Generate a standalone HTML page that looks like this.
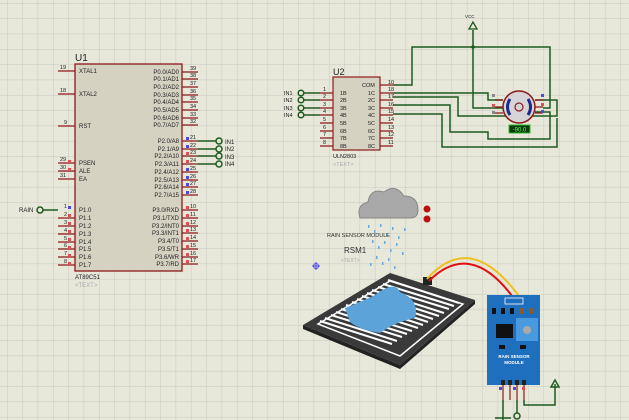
<!DOCTYPE html>
<html><head><meta charset="utf-8"><style>
html,body{margin:0;padding:0;background:#e7e7da;}
svg{display:block;font-family:"Liberation Sans",sans-serif;}
</style></head><body>
<svg width="629" height="420" viewBox="0 0 629 420" xmlns="http://www.w3.org/2000/svg">
<defs>
<pattern id="g" x="7" y="3" width="15.33" height="15.33" patternUnits="userSpaceOnUse">
<path d="M0 0H15.33M0 0V15.33" stroke="#c9c9bd" stroke-width="1" fill="none"/>
</pattern>
</defs>
<rect width="629" height="420" fill="#e7e7da"/>
<rect width="629" height="420" fill="url(#g)"/>

<!-- U1 -->
<text x="75" y="61" font-size="10" fill="#222">U1</text>
<rect x="75" y="64" width="107" height="207" fill="#d5d2c2" stroke="#8b1a1a" stroke-width="1.3"/>
<g stroke="#8b1a1a" stroke-width="1.2">
<path d="M58 71H75M58 94H75M58 126H75M58 163H75M58 171H75M58 179H75"/>
<path d="M58 218H75M58 226H75M58 234H75M58 242H75M58 249H75M58 257H75M58 265H75"/>
<path d="M182 72H198M182 79H198M182 87H198M182 95H198M182 102H198M182 110H198M182 118H198M182 125H198"/>
<path d="M182 141H198M182 149H198M182 156H198M182 164H198M182 172H198M182 180H198M182 187H198M182 195H198"/>
<path d="M182 210H198M182 218H198M182 226H198M182 233H198M182 241H198M182 249H198M182 257H198M182 264H198"/>
</g>
<g font-size="6" fill="#222">
<text x="79" y="73">XTAL1</text><text x="79" y="96">XTAL2</text><text x="79" y="128">RST</text>
<text x="79" y="165">PSEN</text><text x="79" y="173">ALE</text><text x="79" y="181">EA</text>
<text x="79" y="212">P1.0</text><text x="79" y="220">P1.1</text><text x="79" y="228">P1.2</text><text x="79" y="236">P1.3</text>
<text x="79" y="244">P1.4</text><text x="79" y="251">P1.5</text><text x="79" y="259">P1.6</text><text x="79" y="267">P1.7</text>
<g text-anchor="end">
<text x="179" y="74">P0.0/AD0</text><text x="179" y="81">P0.1/AD1</text><text x="179" y="89">P0.2/AD2</text><text x="179" y="97">P0.3/AD3</text>
<text x="179" y="104">P0.4/AD4</text><text x="179" y="112">P0.5/AD5</text><text x="179" y="120">P0.6/AD6</text><text x="179" y="127">P0.7/AD7</text>
<text x="179" y="143">P2.0/A8</text><text x="179" y="151">P2.1/A9</text><text x="179" y="158">P2.2/A10</text><text x="179" y="166">P2.3/A11</text>
<text x="179" y="174">P2.4/A12</text><text x="179" y="182">P2.5/A13</text><text x="179" y="189">P2.6/A14</text><text x="179" y="197">P2.7/A15</text>
<text x="179" y="212">P3.0/RXD</text><text x="179" y="220">P3.1/TXD</text><text x="179" y="228">P3.2/INT0</text><text x="179" y="235">P3.3/INT1</text>
<text x="179" y="243">P3.4/T0</text><text x="179" y="251">P3.5/T1</text><text x="179" y="259">P3.6/WR</text><text x="179" y="266">P3.7/RD</text>
</g>
<text x="75" y="279">AT89C51</text>
<text x="75" y="287" fill="#aaa">&lt;TEXT&gt;</text>
</g>
<g font-size="5.5" fill="#222">
<text x="60" y="69">19</text><text x="60" y="92">18</text><text x="64" y="124">9</text>
<text x="60" y="161">29</text><text x="60" y="169">30</text><text x="60" y="177">31</text>
<text x="64" y="208">1</text><text x="64" y="216">2</text><text x="64" y="224">3</text><text x="64" y="232">4</text><text x="64" y="240">5</text><text x="64" y="247">6</text><text x="64" y="255">7</text><text x="64" y="263">8</text>
<text x="190" y="70">39</text><text x="190" y="77">38</text><text x="190" y="85">37</text><text x="190" y="93">36</text><text x="190" y="100">35</text><text x="190" y="108">34</text><text x="190" y="116">33</text><text x="190" y="123">32</text>
<text x="190" y="139">21</text><text x="190" y="147">22</text><text x="190" y="154">23</text><text x="190" y="162">24</text><text x="190" y="170">25</text><text x="190" y="178">26</text><text x="190" y="185">27</text><text x="190" y="193">28</text>
<text x="190" y="208">10</text><text x="190" y="216">11</text><text x="190" y="224">12</text><text x="190" y="231">13</text><text x="190" y="239">14</text><text x="190" y="247">15</text><text x="190" y="255">16</text><text x="190" y="262">17</text>
</g>
<g fill="#e05050">
<rect x="68" y="160" width="3" height="3"/><rect x="68" y="168" width="3" height="3"/><rect x="68" y="214" width="3" height="3"/><rect x="68" y="222" width="3" height="3"/><rect x="68" y="230" width="3" height="3"/><rect x="68" y="238" width="3" height="3"/><rect x="68" y="246" width="3" height="3"/><rect x="68" y="254" width="3" height="3"/><rect x="68" y="262" width="3" height="3"/>
<rect x="186" y="152" width="3" height="3"/><rect x="186" y="160" width="3" height="3"/>
<rect x="186" y="206" width="3" height="3"/><rect x="186" y="214" width="3" height="3"/><rect x="186" y="222" width="3" height="3"/><rect x="186" y="229" width="3" height="3"/><rect x="186" y="237" width="3" height="3"/><rect x="186" y="245" width="3" height="3"/><rect x="186" y="253" width="3" height="3"/><rect x="186" y="260" width="3" height="3"/>
</g>
<g fill="#4a4ae0">
<rect x="68" y="206" width="3" height="3"/><rect x="186" y="137" width="3" height="3"/><rect x="186" y="145" width="3" height="3"/><rect x="186" y="168" width="3" height="3"/><rect x="186" y="176" width="3" height="3"/><rect x="186" y="183" width="3" height="3"/><rect x="186" y="191" width="3" height="3"/>
</g>
<!-- IN terminals -->
<g stroke="#1e5a1e" stroke-width="1.5" fill="none">
<path d="M198 141H216M198 149H216M198 156H216M198 164H216"/>
<circle cx="219" cy="141" r="3"/><circle cx="219" cy="149" r="3"/><circle cx="219" cy="156" r="3"/><circle cx="219" cy="164" r="3"/>
<path d="M43 210H58"/><circle cx="40" cy="210" r="3"/>
</g>
<g font-size="6" fill="#222"><text x="225" y="144">IN1</text><text x="225" y="151">IN2</text><text x="225" y="159">IN3</text><text x="225" y="166">IN4</text><text x="19" y="212">RAIN</text></g>

<!-- U2 -->
<text x="333" y="75" font-size="9" fill="#222">U2</text>
<rect x="333" y="77" width="47" height="73" fill="#d5d2c2" stroke="#8b1a1a" stroke-width="1.2"/>
<g stroke="#8b1a1a" stroke-width="1.2">
<path d="M320 93H333M320 100H333M320 108H333M320 115H333M320 123H333M320 131H333M320 138H333M320 146H333"/>
<path d="M380 85H393M380 93H393M380 100H393M380 108H393M380 115H393M380 123H393M380 131H393M380 138H393M380 146H393"/>
</g>
<g stroke="#1e5a1e" stroke-width="1.5" fill="none">
<path d="M304 93H320M304 100H320M304 108H320M304 115H320"/>
<circle cx="301" cy="93" r="2.8"/><circle cx="301" cy="100" r="2.8"/><circle cx="301" cy="108" r="2.8"/><circle cx="301" cy="115" r="2.8"/>
<path d="M393 85H412V47H550V108H543"/>
<path d="M473 30V108H503"/>
<path d="M393 93H488V100H503"/>
<path d="M393 97H458V116H557V100H535"/>
<path d="M393 105H450V132H488V139H550V112H535"/>
<path d="M393 114H442V147H557V118"/>
</g>
<circle cx="473" cy="47" r="1.8" fill="#1e5a1e"/>
<g font-size="5.5" fill="#222">
<text x="284" y="95">IN1</text><text x="284" y="102">IN2</text><text x="284" y="110">IN3</text><text x="284" y="117">IN4</text>
<text x="340" y="95">1B</text><text x="340" y="102">2B</text><text x="340" y="110">3B</text><text x="340" y="117">4B</text><text x="340" y="125">5B</text><text x="340" y="133">6B</text><text x="340" y="140">7B</text><text x="340" y="148">8B</text>
<text x="362" y="87">COM</text><text x="368" y="95">1C</text><text x="368" y="102">2C</text><text x="368" y="110">3C</text><text x="368" y="117">4C</text><text x="368" y="125">5C</text><text x="368" y="133">6C</text><text x="368" y="140">7C</text><text x="368" y="148">8C</text>
<text x="323" y="91">1</text><text x="323" y="98">2</text><text x="323" y="106">3</text><text x="323" y="113">4</text><text x="323" y="121">5</text><text x="323" y="129">6</text><text x="323" y="136">7</text><text x="323" y="144">8</text>
<text x="388" y="84">10</text><text x="388" y="91">18</text><text x="388" y="98">17</text><text x="388" y="106">16</text><text x="388" y="113">15</text><text x="388" y="121">14</text><text x="388" y="129">13</text><text x="388" y="136">12</text><text x="388" y="144">11</text>
<text x="333" y="158">ULN2803</text><text x="333" y="166" fill="#aaa">&lt;TEXT&gt;</text>
<text x="465" y="18" font-size="4.5">VCC</text>
</g>
<path d="M473 22L469 29H477Z" fill="none" stroke="#1e5a1e" stroke-width="1.3"/>
<!-- motor -->
<g stroke="#8b1a1a" stroke-width="1.2"><path d="M495 100H503M495 107H503M495 113H503M535 100H543M535 107H543M535 113H543"/></g>
<circle cx="519" cy="107" r="16" fill="#d6d4d6" stroke="#8b1a1a" stroke-width="1.5"/>
<circle cx="519" cy="107" r="4" fill="none" stroke="#8b1a1a" stroke-width="1.2"/>
<path d="M510 99Q505 107 510 115" stroke="#1a2a8a" stroke-width="3" fill="none"/>
<path d="M528 99Q533 107 528 115" stroke="#1a2a8a" stroke-width="3" fill="none"/>
<rect x="509" y="125" width="21" height="8" fill="#0a3a0a" stroke="#2fbf2f"/>
<text x="519.5" y="131.5" font-size="6" fill="#6f6" text-anchor="middle">-90.0</text>
<rect x="492" y="94" width="3" height="3" fill="#888"/><rect x="492" y="104" width="3" height="3" fill="#e05050"/><rect x="492" y="111" width="3" height="3" fill="#888"/>
<rect x="541" y="94" width="3" height="3" fill="#4a4ae0"/><rect x="541" y="103" width="3" height="3" fill="#e05050"/><rect x="541" y="110" width="3" height="3" fill="#4a4ae0"/>

<!-- rain cloud -->
<path d="M360 218Q356 205 368 202Q370 188 384 192Q395 183 404 196Q418 196 418 210Q418 218 410 218Z" fill="#a8a8a8" stroke="#888"/>
<circle cx="427" cy="209" r="3.5" fill="#b81010"/><circle cx="427" cy="219" r="3.5" fill="#b81010"/>
<g fill="#6aa8e0">
<rect x="368" y="225" width="1.5" height="3"/><rect x="374" y="230" width="1.5" height="3"/><rect x="380" y="224" width="1.5" height="3"/><rect x="386" y="233" width="1.5" height="3"/><rect x="392" y="227" width="1.5" height="3"/><rect x="398" y="236" width="1.5" height="3"/><rect x="404" y="228" width="1.5" height="3"/><rect x="372" y="240" width="1.5" height="3"/><rect x="378" y="246" width="1.5" height="3"/><rect x="384" y="241" width="1.5" height="3"/><rect x="390" y="249" width="1.5" height="3"/><rect x="396" y="243" width="1.5" height="3"/><rect x="402" y="252" width="1.5" height="3"/><rect x="376" y="256" width="1.5" height="3"/><rect x="382" y="262" width="1.5" height="3"/><rect x="388" y="258" width="1.5" height="3"/><rect x="394" y="266" width="1.5" height="3"/><rect x="370" y="263" width="1.5" height="3"/>
</g>
<g font-size="5.5" fill="#333"><text x="327" y="237">RAIN SENSOR MODULE</text></g>
<text x="344" y="253" font-size="8" fill="#333">RSM1</text>
<text x="341" y="262" font-size="5" fill="#aaa">&lt;TEXT&gt;</text>
<g stroke="#4a4ae0" stroke-width="1" fill="none"><circle cx="316" cy="266" r="2.5"/><path d="M312 266H320M316 262V270"/></g>
<!-- plate -->
<polygon points="303,325 400,365 400,369 303,329" fill="#222"/>
<polygon points="400,365 475,300 475,304 400,369" fill="#222"/>
<polygon points="303,325 390,273 475,300 400,365" fill="#3a3a3a"/>
<polygon points="318,324 390,281 463,304 400,356" fill="none" stroke="#fff" stroke-width="1.5"/>
<g stroke="#fff" stroke-width="2" fill="none">
<path d="M388 280L459 303M383 284L454 306M378 287L449 309M372 290L444 313M367 293L439 316M362 296L433 319M357 299L428 322M352 302L423 325M346 305L418 328M341 309L412 331M336 312L407 334M331 315L402 337M325 318L397 341M320 321L392 344"/>
</g>
<path d="M345 308Q365 300 375 295Q395 280 400 292Q420 300 415 318Q395 322 380 333Q360 330 350 322Z" fill="#5ba3d9"/>
<rect x="423" y="277" width="9" height="8" fill="#222"/>
<path d="M427 279Q470 230 519 296" stroke="#f0c020" stroke-width="2" fill="none"/>
<path d="M429 281Q470 240 512 296" stroke="#e01010" stroke-width="2" fill="none"/>
<!-- module -->
<rect x="487" y="295" width="53" height="90" fill="#1f6fbf"/>
<rect x="505" y="298" width="18" height="6" fill="none" stroke="#fff" stroke-width="0.8"/>
<g fill="#111"><rect x="492" y="308" width="4" height="6"/><rect x="501" y="308" width="4" height="6"/><rect x="510" y="308" width="4" height="6"/></g>
<g fill="#8a5a2a"><rect x="520" y="308" width="4" height="6"/><rect x="529" y="308" width="4" height="6"/></g>
<rect x="496" y="324" width="17" height="14" fill="#111"/>
<rect x="516" y="318" width="22" height="23" fill="#4a9ae0"/>
<circle cx="527" cy="330" r="4" fill="#aaa"/>
<rect x="499" y="345" width="6" height="4" fill="#111"/><rect x="520" y="345" width="6" height="4" fill="#111"/>
<text x="514" y="358" font-size="4.5" fill="#fff" text-anchor="middle" font-weight="bold">RAIN SENSOR</text>
<text x="514" y="364" font-size="4.5" fill="#fff" text-anchor="middle" font-weight="bold">MODULE</text>
<g fill="#222"><rect x="501" y="380" width="4" height="5"/><rect x="508" y="380" width="4" height="5"/><rect x="515" y="380" width="4" height="5"/><rect x="522" y="380" width="4" height="5"/></g>
<g stroke="#8b1a1a" stroke-width="1.2"><path d="M503 385V400M510 385V400M517 385V400M524 385V400"/></g>
<g stroke="#1e5a1e" stroke-width="1.5" fill="none">
<path d="M503 400V420M495 418H511"/><path d="M517 400V413"/><circle cx="517" cy="416" r="3"/>
<path d="M524 400V405H555V384"/><path d="M555 380L551 387H559Z"/>
</g>
<rect x="499" y="387" width="3" height="3" fill="#4a4ae0"/><rect x="513" y="387" width="3" height="3" fill="#4a4ae0"/><rect x="522" y="387" width="3" height="3" fill="#e05050"/>
</svg>
</body></html>
